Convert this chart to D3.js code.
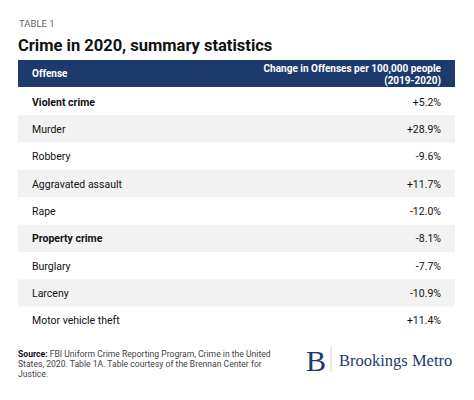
<!DOCTYPE html><html><head><meta charset="utf-8"><script src="https://cdn.jsdelivr.net/npm/d3@7"></script>
<style>body{margin:0;background:#fff}</style></head><body><script>
const offenses=["Violent crime","Murder","Robbery","Aggravated assault","Rape","Property crime","Burglary","Larceny","Motor vehicle theft"];
const changes=["+5.2%","+28.9%","-9.6%","+11.7%","-12.0%","-8.1%","-7.7%","-10.9%","+11.4%"];
const boldRows=["Violent crime","Property crime"];
const W=474,H=400,F="Roboto, sans-serif";
const svg=d3.select("body").append("svg").attr("width",W).attr("height",H);
const x0=18,x1=455;
svg.append("text").attr("x",19).attr("y",27).attr("font-family",F).attr("font-size",9.5).attr("fill","#666").text("TABLE 1");
svg.append("text").attr("x",18).attr("y",51).attr("font-family",F).attr("font-size",16.5).attr("font-weight",700).attr("fill","#111").text("Crime in 2020, summary statistics");
svg.append("rect").attr("x",x0).attr("y",60).attr("width",x1-x0).attr("height",27).attr("fill","#1d3a6c");
const hf=svg.append("g").attr("font-family",F).attr("font-size",10).attr("font-weight",700).attr("fill","#fff");
hf.append("text").attr("x",32).attr("y",77).text("Offense");
hf.append("text").attr("x",441).attr("y",72).attr("text-anchor","end").text("Change in Offenses per 100,000 people");
hf.append("text").attr("x",441).attr("y",84).attr("text-anchor","end").text("(2019-2020)");
const y=d3.scaleBand().domain(offenses).range([88,334]);
const rows=svg.selectAll("g.r").data(offenses).join("g").attr("transform",d=>`translate(0,${y(d)})`);
rows.append("rect").attr("x",x0).attr("width",x1-x0).attr("height",y.bandwidth()).attr("fill",(d,i)=>i%2?"#f2f2f2":"#fff");
rows.append("text").attr("x",32).attr("y",y.bandwidth()/2+4).attr("font-family",F).attr("font-size",10.5).attr("font-weight",d=>boldRows.includes(d)?700:400).attr("fill","#111").text(d=>d);
rows.append("text").attr("x",441).attr("y",y.bandwidth()/2+4).attr("text-anchor","end").attr("font-family",F).attr("font-size",10.5).attr("fill","#111").text((d,i)=>changes[i]);
const s=svg.append("g").attr("font-family",F).attr("font-size",8.6).attr("fill","#444");
const l1=s.append("text").attr("x",18).attr("y",357);
l1.append("tspan").attr("font-weight",700).attr("fill","#111").text("Source:");
l1.append("tspan").text(" FBI Uniform Crime Reporting Program, Crime in the United");
s.append("text").attr("x",18).attr("y",367).text("States, 2020. Table 1A. Table courtesy of the Brennan Center for");
s.append("text").attr("x",18).attr("y",377).text("Justice.");
svg.append("text").attr("x",306).attr("y",371).attr("font-family","Liberation Serif, serif").attr("font-size",30).attr("fill","#1d3a6c").text("B");
svg.append("line").attr("x1",331).attr("x2",331).attr("y1",347).attr("y2",372).attr("stroke","#bbb").attr("stroke-width",0.7);
svg.append("text").attr("x",339).attr("y",366).attr("font-family","Liberation Serif, serif").attr("font-size",16.5).attr("fill","#1d3a6c").text("Brookings Metro");
</script></body></html>
